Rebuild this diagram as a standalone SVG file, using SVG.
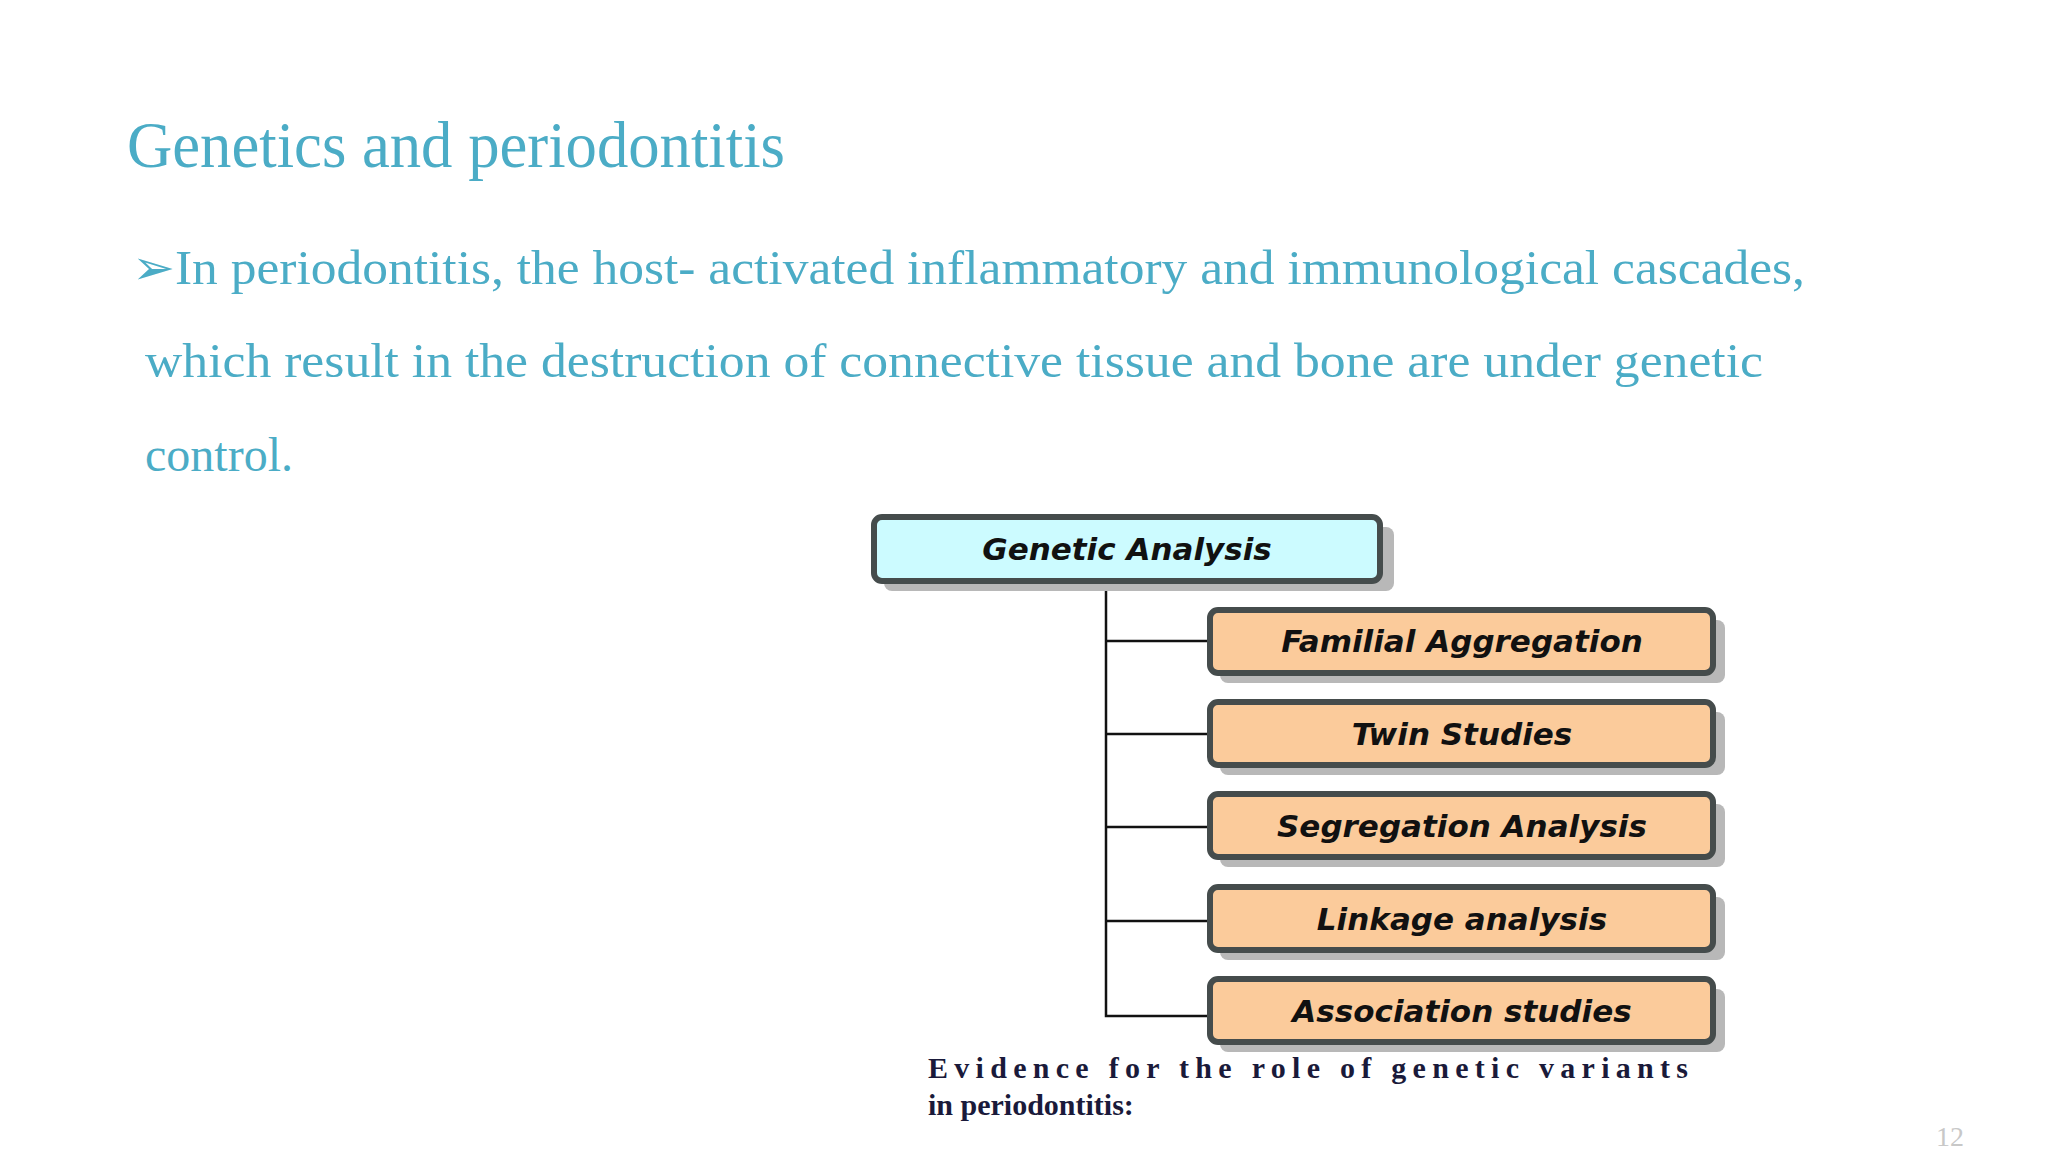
<svg xmlns="http://www.w3.org/2000/svg" width="2048" height="1152" viewBox="0 0 2048 1152">
<style>
.t{font-family:"Liberation Serif",serif;fill:#4BACC6}
.b{fill:#FBCB9B;stroke:#454c4c;stroke-width:6}
.sh{fill:#b8b8b8}
.l{font-family:"DejaVu Sans",sans-serif;font-style:oblique;font-weight:bold;font-size:31px;fill:#111;text-anchor:middle}
.c{stroke:#111;stroke-width:2.5;fill:none}
.cap{font-family:"Liberation Serif",serif;font-weight:bold;font-size:30px;fill:#1a1a3a}
</style>
<rect width="2048" height="1152" fill="#fff"/>
<text class="t" x="127" y="167" font-size="66" textLength="658" lengthAdjust="spacingAndGlyphs">Genetics and periodontitis</text>
<text class="t" x="132" y="284" font-size="48" textLength="1673" lengthAdjust="spacingAndGlyphs">➢In periodontitis, the host- activated inflammatory and immunological cascades,</text>
<text class="t" x="145" y="377" font-size="48" textLength="1618" lengthAdjust="spacingAndGlyphs">which result in the destruction of connective tissue and bone are under genetic</text>
<text class="t" x="145" y="471" font-size="48">control.</text>
<g id="connectors">
<path class="c" d="M1106 581V1016H1210M1106 641H1210M1106 734H1210M1106 827H1210M1106 921H1210"/>
</g>
<g id="genetic-analysis">
<rect class="sh" x="884" y="527" width="510" height="64" rx="8"/>
<rect x="874" y="517" width="506" height="64" rx="8" fill="#ccfbff" stroke="#454c4c" stroke-width="6"/>
<text class="l" x="1127" y="560">Genetic Analysis</text>
</g>
<g id="familial">
<rect class="sh" x="1220" y="620" width="505" height="63" rx="8"/>
<rect class="b" x="1210" y="610" width="503" height="63" rx="8"/>
<text class="l" x="1462" y="652">Familial Aggregation</text>
</g>
<g id="twin">
<rect class="sh" x="1220" y="712" width="505" height="63" rx="8"/>
<rect class="b" x="1210" y="702" width="503" height="63" rx="8"/>
<text class="l" x="1462" y="745">Twin Studies</text>
</g>
<g id="segregation">
<rect class="sh" x="1220" y="804" width="505" height="63" rx="8"/>
<rect class="b" x="1210" y="794" width="503" height="63" rx="8"/>
<text class="l" x="1462" y="837">Segregation Analysis</text>
</g>
<g id="linkage">
<rect class="sh" x="1220" y="897" width="505" height="63" rx="8"/>
<rect class="b" x="1210" y="887" width="503" height="63" rx="8"/>
<text class="l" x="1462" y="930">Linkage analysis</text>
</g>
<g id="association">
<rect class="sh" x="1220" y="989" width="505" height="63" rx="8"/>
<rect class="b" x="1210" y="979" width="503" height="63" rx="8"/>
<text class="l" x="1462" y="1022">Association studies</text>
</g>
<text class="cap" x="928" y="1078" textLength="760" lengthAdjust="spacing">Evidence for the role of genetic variants</text>
<text class="cap" x="928" y="1115">in periodontitis:</text>
<text x="1936" y="1146" font-family="Liberation Serif,serif" font-size="28" fill="#c8c8c8">12</text>
</svg>
